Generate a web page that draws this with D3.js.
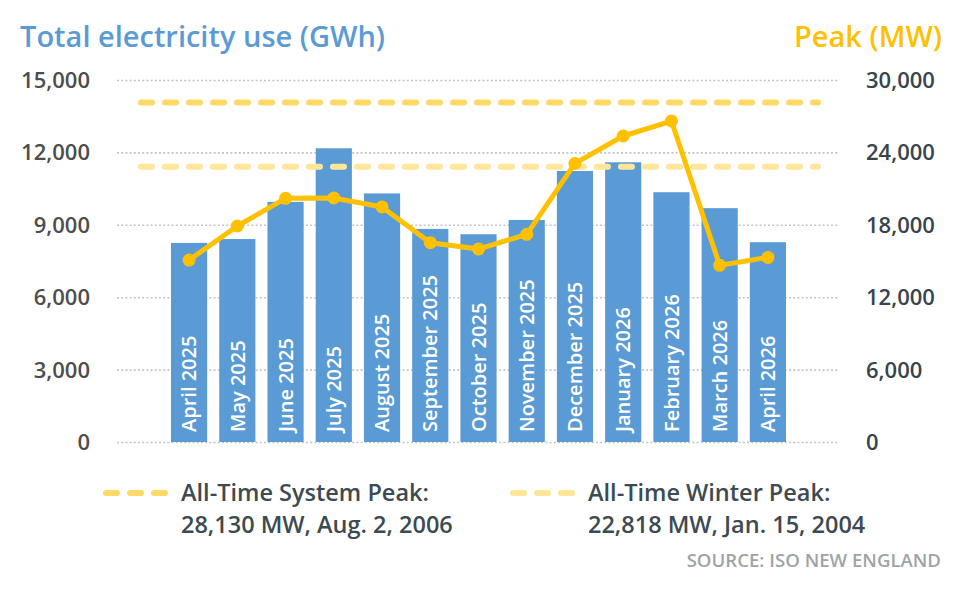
<!DOCTYPE html>
<html lang="en">
<head>
  <meta charset="UTF-8">
  <script src="https://cdn.jsdelivr.net/npm/d3@7/dist/d3.min.js"></script>
  <title>Electricity use and peak</title>
  <style>
    body { margin: 0; background: #fff; }
    text { font-family: "Open Sans", sans-serif; font-weight: 600; }
    .grid line { stroke: #c4c4c4; stroke-width: 1.6; stroke-dasharray: 2,2.2; }
    .grid .domain { display: none; }
  </style>
</head>
<body>
  <script>
    // data
    const months = ["April 2025", "May 2025", "June 2025", "July 2025", "August 2025",
      "September 2025", "October 2025", "November 2025", "December 2025",
      "January 2026", "February 2026", "March 2026", "April 2026"];
    const energyGWh = [8250, 8410, 9950, 12170, 10300, 8830, 8610, 9200, 11230, 11590, 10350, 9690, 8280];
    const peakMW = [15080, 17900, 20190, 20220, 19480, 16520, 15990, 17210, 23090, 25360, 26600, 14640, 15300];
    const leftTicks = [0, 3000, 6000, 9000, 12000, 15000];
    const rightTicks = [0, 6000, 12000, 18000, 24000, 30000];
    const systemPeak = 28130;
    const winterPeak = 22818;

    const W = 958, H = 594;
    const svg = d3.select("body").append("svg").attr("width", W).attr("height", H);

    const yL = d3.scaleLinear().domain([0, 15000]).range([442, 80]);
    const yR = d3.scaleLinear().domain([0, 30000]).range([442, 80]);
    const x = d3.scaleBand().domain(months).range([171, 786]).paddingInner(0.25);

    // gridlines
    svg.append("g").attr("class", "grid")
      .attr("transform", "translate(117,0)")
      .call(d3.axisRight(yL).tickValues(leftTicks).tickSize(721).tickFormat(""));

    // tick labels
    svg.append("g").selectAll("text").data(leftTicks).enter().append("text")
      .attr("x", 90).attr("y", d => yL(d)).attr("dy", "0.36em")
      .attr("text-anchor", "end").attr("font-size", 22).attr("fill", "#4d4d4d")
      .text(d => d3.format(",")(d));
    svg.append("g").selectAll("text").data(rightTicks).enter().append("text")
      .attr("x", 866).attr("y", d => yR(d)).attr("dy", "0.36em")
      .attr("font-size", 22).attr("fill", "#38444c")
      .text(d => d3.format(",")(d));

    // titles
    svg.append("text").attr("x", 20).attr("y", 47)
      .attr("font-size", 29).attr("fill", "#5b9bd5")
      .text("Total electricity use (GWh)");
    svg.append("text").attr("x", 942).attr("y", 47).attr("text-anchor", "end")
      .attr("font-size", 29).attr("fill", "#ffc000")
      .text("Peak (MW)");

    // bars
    svg.append("g").selectAll("rect").data(months).enter().append("rect")
      .attr("x", d => x(d)).attr("width", x.bandwidth())
      .attr("y", (d, i) => yL(energyGWh[i]))
      .attr("height", (d, i) => yL(0) - yL(energyGWh[i]))
      .attr("fill", "#5b9bd5");

    svg.append("g").selectAll("text").data(months).enter().append("text")
      .attr("transform", d => `translate(${x(d) + x.bandwidth() / 2},432) rotate(-90)`)
      .attr("dy", "0.36em").attr("font-size", 20).attr("fill", "#fff")
      .text(d => d);

    // all-time peak reference lines
    const refs = [
      { v: systemPeak, c: "#ffd966" },
      { v: winterPeak, c: "#ffe699" }
    ];
    svg.append("g").selectAll("line").data(refs).enter().append("line")
      .attr("x1", 141).attr("x2", 818)
      .attr("y1", d => yR(d.v)).attr("y2", d => yR(d.v))
      .attr("stroke", d => d.c).attr("stroke-width", 6)
      .attr("stroke-linecap", "round").attr("stroke-dasharray", "11,13");

    // peak line
    const cx = d => x(d) + x.bandwidth() / 2;
    const line = d3.line().x(d => cx(d)).y((d, i) => yR(peakMW[i]));
    svg.append("path").datum(months)
      .attr("d", line).attr("fill", "none")
      .attr("stroke", "#ffc000").attr("stroke-width", 5).attr("stroke-linejoin", "round");
    svg.append("g").selectAll("circle").data(months).enter().append("circle")
      .attr("cx", d => cx(d)).attr("cy", (d, i) => yR(peakMW[i]))
      .attr("r", 6.5).attr("fill", "#ffc000");

    // legend
    const legend = [
      { x: 106, c: "#ffd966", l1: "All-Time System Peak:", l2: "28,130 MW, Aug. 2, 2006" },
      { x: 513, c: "#ffe699", l1: "All-Time Winter Peak:", l2: "22,818 MW, Jan. 15, 2004" }
    ];
    const lg = svg.append("g").selectAll("g").data(legend).enter().append("g")
      .attr("transform", d => `translate(${d.x},0)`);
    lg.append("line").attr("x1", 0).attr("x2", 60).attr("y1", 493).attr("y2", 493)
      .attr("stroke", d => d.c).attr("stroke-width", 6)
      .attr("stroke-linecap", "round").attr("stroke-dasharray", "11,13");
    lg.append("text").attr("x", 75).attr("y", 501).attr("font-size", 23.5).attr("fill", "#3d4a52")
      .text(d => d.l1);
    lg.append("text").attr("x", 75).attr("y", 533).attr("font-size", 23.5).attr("fill", "#3d4a52")
      .text(d => d.l2);

    svg.append("text").attr("x", 941).attr("y", 567).attr("text-anchor", "end")
      .attr("font-size", 18.6).attr("fill", "#9ea4a6")
      .text("SOURCE: ISO NEW ENGLAND");
  </script>
</body>
</html>
